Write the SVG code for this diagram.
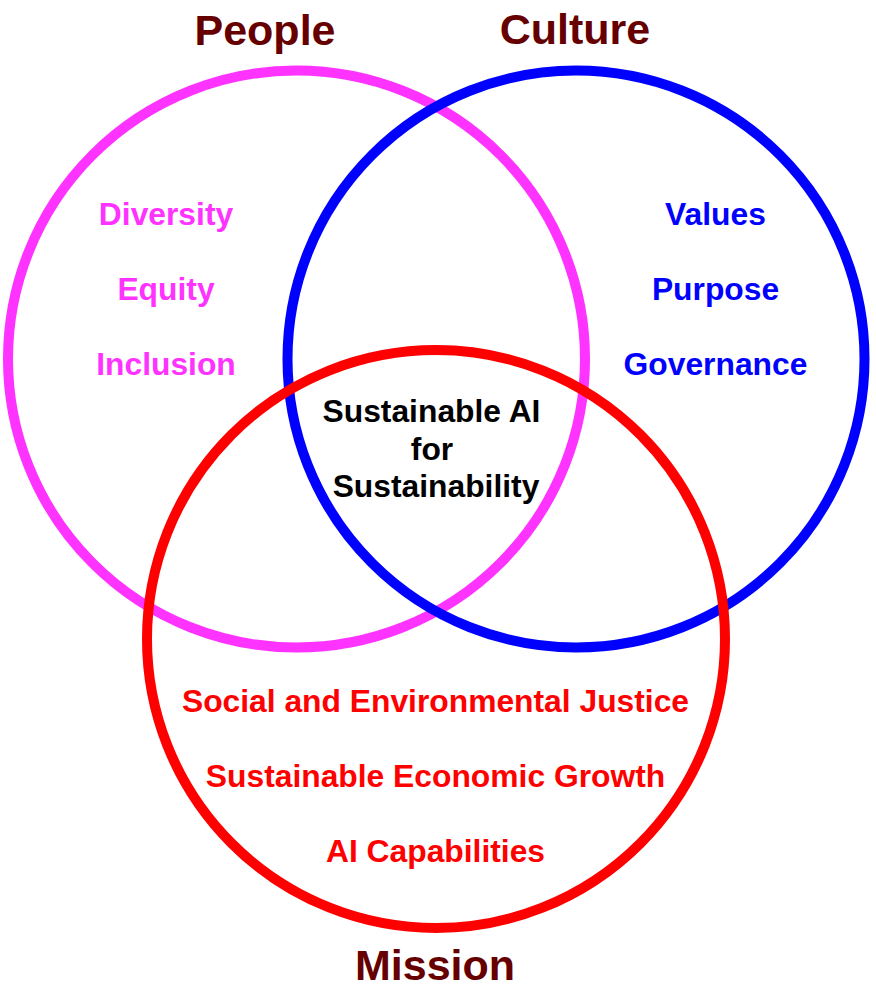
<svg xmlns="http://www.w3.org/2000/svg" width="876" height="1000" viewBox="0 0 876 1000">
<style>
.c{fill:none;stroke-width:10}
text{font-family:"Liberation Sans",Arial,sans-serif;font-weight:bold;text-anchor:middle}
.t{font-size:43px;fill:#660000}
.l{font-size:31.8px}
.p{fill:#FF33FF}
.b{fill:#0000FF}
.r{fill:#FF0000}
.k{fill:#000000}
</style>
<rect width="876" height="1000" fill="#ffffff"/>
<g id="people">
<circle class="c" cx="296.5" cy="359" r="288.5" stroke="#FF33FF"/>
</g>
<g id="culture">
<circle class="c" cx="576" cy="359" r="288.5" stroke="#0000FF"/>
</g>
<g id="mission">
<circle class="c" cx="436" cy="639" r="289" stroke="#FF0000"/>
</g>
<g id="people-labels">
<text class="t" x="265" y="45">People</text>
<text class="l p" x="166" y="225">Diversity</text>
<text class="l p" x="166" y="300">Equity</text>
<text class="l p" x="166" y="375">Inclusion</text>
</g>
<g id="culture-labels">
<text class="t" x="575" y="44">Culture</text>
<text class="l b" x="715.5" y="225">Values</text>
<text class="l b" x="715.5" y="300">Purpose</text>
<text class="l b" x="715.5" y="375">Governance</text>
</g>
<g id="center">
<text class="l k" x="431.5" y="422">Sustainable AI</text>
<text class="l k" x="432" y="459.5">for</text>
<text class="l k" x="436" y="497">Sustainability</text>
</g>
<g id="mission-labels">
<text class="l r" x="435.5" y="711.5">Social and Environmental Justice</text>
<text class="l r" x="435.5" y="787">Sustainable Economic Growth</text>
<text class="l r" x="435.5" y="862">AI Capabilities</text>
<text class="t" x="435" y="980">Mission</text>
</g>
<g id="connectors"></g>
</svg>
